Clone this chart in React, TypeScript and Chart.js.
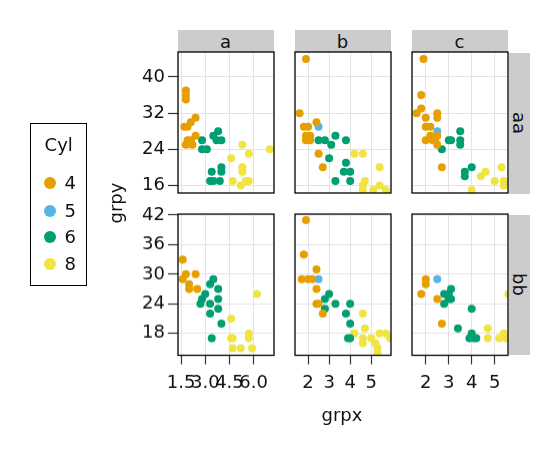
import { useEffect, useRef } from 'react';
import { Chart, registerables } from 'chart.js';

Chart.register(...registerables);
Chart.defaults.font.family = "'DejaVu Sans', sans-serif";

const CYLS = ['4', '5', '6', '8'];
const CYL_COLORS = ['#E69F00', '#56B4E9', '#009E73', '#F0E442'];
const COL_NAMES = ['a', 'b', 'c'];
const ROW_NAMES = ['aa', 'bb'];

const X_TICKS = [[1.5, 3, 4.5, 6], [2, 3, 4, 5], [2, 3, 4, 5]];
const X_TICK_LABELS = [['1.5', '3.0', '4.5', '6.0'], ['2', '3', '4', '5'], ['2', '3', '4', '5']];
const Y_TICKS = [[16, 24, 32, 40], [18, 24, 30, 36, 42]];
const Y_TICK_LABELS = [['16', '24', '32', '40'], ['18', '24', '30', '36', '42']];
const X_LIMITS = [[1.31, 7.26], [1.38, 5.94], [1.4, 5.58]];
const Y_LIMITS = [[14.32, 45.53], [13.56, 42.2]];

type Pt = [number, number];

// row aa
const AA_A_4: Pt[] = [[1.8, 37], [1.8, 36], [1.8, 35], [2.4, 31], [2.1, 30], [1.9, 29], [1.7, 29], [2.4, 27], [2.1, 26], [1.8, 25], [2.2, 25], [1.9, 26]];
const AA_A_5: Pt[] = [];
const AA_A_6: Pt[] = [[2.8, 26], [2.8, 24], [3.1, 24], [3.8, 28], [3.5, 27], [3.7, 26], [4.0, 26], [3.4, 19], [4.0, 20], [4.0, 19], [3.3, 17], [3.5, 17], [3.9, 17]];
const AA_A_8: Pt[] = [[7.0, 24], [5.3, 25], [5.7, 23], [4.6, 22], [5.3, 20], [5.3, 19], [4.7, 17], [5.2, 16], [5.5, 17], [5.7, 17]];

const AA_B_4: Pt[] = [[1.9, 44], [1.6, 32], [2.4, 30], [1.8, 29], [2.0, 29], [1.9, 27], [2.1, 27], [1.9, 26], [2.1, 26], [2.5, 23], [2.7, 20]];
const AA_B_5: Pt[] = [[2.5, 29]];
const AA_B_6: Pt[] = [[2.5, 26], [2.8, 26], [3.3, 27], [3.1, 25], [3.8, 26], [3.0, 22], [3.8, 21], [3.7, 19], [4.0, 19], [3.3, 17], [4.0, 17]];
const AA_B_8: Pt[] = [[4.2, 23], [4.6, 23], [5.4, 20], [4.7, 17], [4.6, 16], [4.6, 15], [5.1, 15], [5.4, 16], [5.7, 15]];

const AA_C_4: Pt[] = [[1.9, 44], [1.8, 36], [1.8, 33], [1.6, 32], [2.5, 32], [2.5, 31], [2.0, 31], [2.0, 29], [2.2, 29], [2.0, 26], [2.2, 27], [2.3, 26], [2.5, 27], [2.5, 25], [2.4, 26], [2.7, 20]];
const AA_C_5: Pt[] = [[2.5, 28]];
const AA_C_6: Pt[] = [[3.5, 28], [3.0, 26], [3.1, 26], [3.5, 26], [3.5, 25], [2.7, 24], [4.0, 20], [3.7, 19], [3.7, 18]];
const AA_C_8: Pt[] = [[4.6, 19], [4.4, 18], [5.3, 20], [5.0, 17], [5.4, 17], [5.4, 16], [4.0, 15]];

// row bb
const BB_A_4: Pt[] = [[1.6, 33], [1.8, 30], [1.6, 29], [2.4, 30], [2.0, 28], [2.0, 27], [2.5, 27]];
const BB_A_5: Pt[] = [];
const BB_A_6: Pt[] = [[3.5, 29], [3.3, 28], [3.8, 27], [3.0, 26], [2.8, 25], [2.7, 24], [3.3, 24], [3.8, 25], [3.8, 23], [3.3, 22], [4.0, 20], [3.4, 17]];
const BB_A_8: Pt[] = [[6.2, 26], [4.6, 21], [4.6, 17], [4.7, 17], [5.7, 18], [5.7, 17], [4.7, 15], [5.2, 15], [5.9, 15]];

const BB_B_4: Pt[] = [[1.9, 41], [1.8, 34], [2.4, 31], [1.7, 29], [2.0, 29], [2.2, 29], [2.4, 27], [2.4, 24], [2.5, 24], [2.7, 22]];
const BB_B_5: Pt[] = [[2.5, 29]];
const BB_B_6: Pt[] = [[3.0, 26], [2.8, 25], [2.8, 23], [3.3, 24], [4.0, 24], [3.8, 22], [4.0, 20], [3.9, 17], [4.0, 17]];
const BB_B_8: Pt[] = [[4.6, 22], [4.7, 19], [4.2, 18], [4.6, 17], [4.6, 16], [5.0, 17], [5.2, 16], [5.3, 15], [5.3, 14], [5.4, 18], [5.7, 18], [5.9, 17]];

const BB_C_4: Pt[] = [[2.0, 29], [2.0, 28], [1.8, 26], [2.5, 25], [2.7, 20]];
const BB_C_5: Pt[] = [[2.5, 29]];
const BB_C_6: Pt[] = [[2.8, 26], [3.0, 26], [3.1, 27], [3.1, 25], [3.0, 25], [2.8, 24], [4.0, 23], [3.4, 19], [4.0, 18], [3.9, 17], [4.1, 17], [4.2, 17]];
const BB_C_8: Pt[] = [[4.7, 19], [4.7, 17], [5.2, 17], [5.4, 18], [5.5, 17], [5.6, 26]];

const PANEL_SERIES: Pt[][][][] = [
  [
    [AA_A_4, AA_A_5, AA_A_6, AA_A_8],
    [AA_B_4, AA_B_5, AA_B_6, AA_B_8],
    [AA_C_4, AA_C_5, AA_C_6, AA_C_8],
  ],
  [
    [BB_A_4, BB_A_5, BB_A_6, BB_A_8],
    [BB_B_4, BB_B_5, BB_B_6, BB_B_8],
    [BB_C_4, BB_C_5, BB_C_6, BB_C_8],
  ],
];

// layout (px)
const COL_LEFT = [177.5, 294.5, 411.5];
const PANEL_W = 96;
const ROW_TOP = [52.3, 214];
const ROW_H = [141, 140.5];
const Y_AXIS_W = 60;
const X_AXIS_H = 45;
const PAD = 14;
const TEXT = '#111111';

const panelBorder = {
  id: 'panelBorder',
  afterDraw(chart: Chart) {
    const { ctx, chartArea } = chart;
    ctx.save();
    ctx.strokeStyle = '#000000';
    ctx.lineWidth = 1.3;
    ctx.strokeRect(chartArea.left, chartArea.top, chartArea.right - chartArea.left, chartArea.bottom - chartArea.top);
    ctx.restore();
  },
};

function Panel({ row, col }: { row: number; col: number }) {
  const canvasRef = useRef<HTMLCanvasElement>(null);
  const isLeft = col === 0;
  const isBottom = row === 1;

  useEffect(() => {
    if (!canvasRef.current) return;
    const series = PANEL_SERIES[row][col];
    const chart = new Chart(canvasRef.current, {
      type: 'scatter',
      data: {
        datasets: series.map((pts, i) => ({
          label: CYLS[i],
          data: pts.map(([x, y]) => ({ x, y })),
          backgroundColor: CYL_COLORS[i],
          pointBackgroundColor: CYL_COLORS[i],
          borderWidth: 0,
          pointRadius: 4,
          pointHoverRadius: 4,
          clip: 0,
        })),
      },
      options: {
        animation: false,
        responsive: true,
        maintainAspectRatio: false,
        events: [],
        layout: {
          padding: { left: isLeft ? 0 : PAD, right: PAD, top: PAD, bottom: isBottom ? 0 : PAD },
        },
        plugins: { legend: { display: false }, tooltip: { enabled: false } },
        scales: {
          x: {
            type: 'linear',
            min: X_LIMITS[col][0],
            max: X_LIMITS[col][1],
            afterBuildTicks: (s: any) => {
              s.ticks = X_TICKS[col].map((value) => ({ value }));
            },
            afterFit: (s: any) => {
              s.height = isBottom ? X_AXIS_H : 0;
            },
            ticks: {
              display: isBottom,
              autoSkip: false,
              maxRotation: 0,
              minRotation: 0,
              padding: 8,
              color: TEXT,
              font: { size: 18 },
              callback: (_v: any, i: number) => X_TICK_LABELS[col][i],
            },
            grid: {
              color: '#E3E3E3',
              lineWidth: 1,
              drawTicks: isBottom,
              tickLength: 9,
              tickColor: '#333333',
              tickWidth: 1.2,
            },
            border: { display: false },
          },
          y: {
            type: 'linear',
            min: Y_LIMITS[row][0],
            max: Y_LIMITS[row][1],
            afterBuildTicks: (s: any) => {
              s.ticks = Y_TICKS[row].map((value) => ({ value }));
            },
            afterFit: (s: any) => {
              s.width = isLeft ? Y_AXIS_W : 0;
            },
            ticks: {
              display: isLeft,
              autoSkip: false,
              padding: 3,
              color: TEXT,
              font: { size: 18 },
              callback: (_v: any, i: number) => Y_TICK_LABELS[row][i],
            },
            grid: {
              color: '#E3E3E3',
              lineWidth: 1,
              drawTicks: isLeft,
              tickLength: 10,
              tickColor: '#333333',
              tickWidth: 1.2,
            },
            border: { display: false },
          },
        },
      },
      plugins: [panelBorder],
    });
    return () => chart.destroy();
  }, [row, col]);

  const left = COL_LEFT[col] - (isLeft ? Y_AXIS_W : PAD);
  const top = ROW_TOP[row] - PAD;
  const width = PANEL_W + (isLeft ? Y_AXIS_W : PAD) + PAD;
  const height = ROW_H[row] + PAD + (isBottom ? X_AXIS_H : PAD);

  return (
    <div style={{ position: 'absolute', left, top, width, height }}>
      <canvas ref={canvasRef} />
    </div>
  );
}

const textBase = {
  position: 'absolute' as const,
  fontFamily: "'DejaVu Sans', sans-serif",
  fontSize: 18,
  color: TEXT,
  whiteSpace: 'nowrap' as const,
};

export default function App() {
  const legendY = [183.3, 210.7, 237.3, 264.3];
  return (
    <div style={{ position: 'absolute', left: 0, top: 0, width: 560, height: 457, background: '#fff', overflow: 'hidden' }}>
      {/* column strips */}
      {COL_NAMES.map((name, c) => (
        <div key={name} style={{ position: 'absolute', left: COL_LEFT[c], top: 30, width: PANEL_W, height: 22, background: '#CCCCCC' }}>
          <div style={{ ...textBase, left: 0, width: PANEL_W, top: 1, lineHeight: '22px', textAlign: 'center' }}>{name}</div>
        </div>
      ))}
      {/* row strips */}
      {ROW_NAMES.map((name, r) => (
        <div key={name} style={{ position: 'absolute', left: 509, top: ROW_TOP[r] + 0.5, width: 21, height: ROW_H[r], background: '#CCCCCC' }}>
          <div style={{ ...textBase, left: 0, top: 0, width: 21, height: ROW_H[r], lineHeight: '21px', writingMode: 'vertical-rl', textAlign: 'center' }}>{name}</div>
        </div>
      ))}
      {[0, 1].map((r) => [0, 1, 2].map((c) => <Panel key={`${r}-${c}`} row={r} col={c} />))}
      {/* axis titles */}
      <div style={{ ...textBase, left: 342 - 40, width: 80, top: 404.5, lineHeight: '20px', textAlign: 'center' }}>grpx</div>
      <div style={{ ...textBase, left: 116.4 - 40, width: 80, top: 203 - 10, lineHeight: '20px', textAlign: 'center', transform: 'rotate(-90deg)' }}>grpy</div>
      {/* legend */}
      <div style={{ position: 'absolute', left: 30, top: 123.3, width: 54.7, height: 160.7, border: '1px solid #000' }} />
      <div style={{ ...textBase, left: 28.7, width: 60, top: 144.6 - 10, lineHeight: '20px', textAlign: 'center' }}>Cyl</div>
      {CYLS.map((cyl, i) => (
        <div key={cyl}>
          <div style={{ position: 'absolute', left: 44, top: legendY[i] - 6, width: 12, height: 12, borderRadius: 6, background: CYL_COLORS[i] }} />
          <div style={{ ...textBase, left: 64.5, top: legendY[i] - 10, lineHeight: '20px' }}>{cyl}</div>
        </div>
      ))}
    </div>
  );
}
